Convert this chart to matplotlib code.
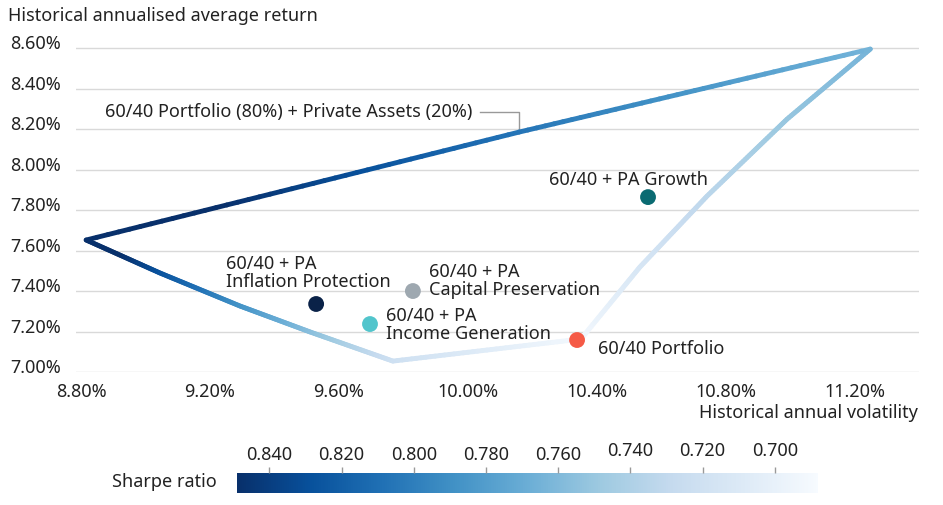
"""Return vs volatility of 60/40 + private asset blends, coloured by Sharpe ratio."""

import matplotlib

matplotlib.use("Agg")

import matplotlib.pyplot as plt
import numpy as np
from matplotlib.collections import LineCollection
from matplotlib.colors import Normalize
from matplotlib.transforms import ScaledTranslation

plt.rcParams["font.family"] = ["Noto Sans", "DejaVu Sans"]

# Blend path: volatility (%), return (%), sharpe ratio at each vertex
PATH_VOL = [10.35, 10.533, 10.741, 10.989, 11.247, 10.158, 8.816,
            9.045, 9.293, 9.510, 9.767, 10.35]
PATH_RET = [7.163, 7.519, 7.869, 8.249, 8.595, 8.185, 7.652,
            7.489, 7.326, 7.198, 7.054, 7.163]
PATH_SHARPE = [0.692, 0.714, 0.733, 0.751, 0.764, 0.806, 0.868,
               0.828, 0.788, 0.757, 0.722, 0.692]

# Named portfolios
POINT_NAMES = [
    "60/40 + PA Growth",
    "60/40 + PA\nInflation Protection",
    "60/40 + PA\nCapital Preservation",
    "60/40 + PA\nIncome Generation",
    "60/40 Portfolio",
]
POINT_VOL = [10.558, 9.529, 9.829, 9.696, 10.338]
POINT_RET = [7.864, 7.336, 7.400, 7.237, 7.158]
POINT_COLORS = ["#0b6b72", "#0a2248", "#9ea8b0", "#52c5cc", "#f55a46"]
# label anchor (left edge, vertical centre) in data units
LABEL_POS = [(10.251, 7.953), (9.250, 7.494), (9.879, 7.454),
             (9.746, 7.237), (10.403, 7.119)]

Y_TICKS = [7.0, 7.2, 7.4, 7.6, 7.8, 8.0, 8.2, 8.4, 8.6]
X_TICKS = [8.8, 9.2, 9.6, 10.0, 10.4, 10.8, 11.2]
CBAR_TICKS = [0.84, 0.82, 0.80, 0.78, 0.76, 0.74, 0.72, 0.70]
SHARPE_MIN, SHARPE_MAX = 0.688, 0.849

TEXT = "#222222"
FS = 13

norm = Normalize(vmin=SHARPE_MIN, vmax=SHARPE_MAX)
cmap = plt.get_cmap("Blues")

fig = plt.figure(figsize=(9.43, 5.06), dpi=100)
ax = fig.add_axes([0.0806, 0.2628, 0.8939, 0.6482])
ax.set_xlim(8.7845, 11.398)
ax.set_ylim(7.0, 8.62)
for s in ax.spines.values():
    s.set_visible(False)

ax.set_yticks(Y_TICKS, [f"{v:.2f}%" for v in Y_TICKS])
ax.set_xticks(X_TICKS, [f"{v:.2f}%" for v in X_TICKS])
ax.grid(axis="y", color="#d9d9d9", linewidth=1)
ax.set_axisbelow(True)
ax.tick_params(axis="both", length=0, labelsize=FS, labelcolor=TEXT)
ax.tick_params(axis="x", pad=7.5)
ax.tick_params(axis="y", pad=47.5)
for lbl in ax.get_yticklabels():
    lbl.set_horizontalalignment("left")
    lbl.set_verticalalignment("baseline")

# gradient line: split every leg into short pieces
segs, vals = [], []
for i in range(len(PATH_VOL) - 1):
    t = np.linspace(0, 1, 41)
    xs = PATH_VOL[i] + (PATH_VOL[i + 1] - PATH_VOL[i]) * t
    ys = PATH_RET[i] + (PATH_RET[i + 1] - PATH_RET[i]) * t
    cs = PATH_SHARPE[i] + (PATH_SHARPE[i + 1] - PATH_SHARPE[i]) * t
    pts = np.column_stack([xs, ys])
    for j in range(len(t) - 1):
        segs.append(pts[j:j + 2])
        vals.append((cs[j] + cs[j + 1]) / 2)
lc = LineCollection(segs, cmap=cmap, norm=norm, linewidths=3.5,
                    capstyle="round", joinstyle="round", zorder=2)
lc.set_array(np.array(vals))
ax.add_collection(lc)

ax.scatter(POINT_VOL, POINT_RET, s=130, c=POINT_COLORS, zorder=4, linewidths=0)
for name, (lx, ly) in zip(POINT_NAMES, LABEL_POS):
    ax.text(lx, ly, name, fontsize=FS, color=TEXT, ha="left", va="center",
            linespacing=1.05, zorder=5)

# callout for the blend line
ax.text(10.012, 8.289, "60/40 Portfolio (80%) + Private Assets (20%)",
        fontsize=FS, color=TEXT, ha="right", va="center")
ax.plot([10.037, 10.158, 10.158], [8.284, 8.284, 8.195],
        color="#999999", linewidth=1, zorder=1)

fig.text(8 / 943, 1 - 16 / 506, "Historical annualised average return",
         fontsize=FS, color=TEXT, va="center")
fig.text(918 / 943, 1 - 413 / 506, "Historical annual volatility",
         fontsize=FS, color=TEXT, ha="right", va="center")

# Sharpe ratio colour bar
cax = fig.add_axes([237 / 943, 1 - 494 / 506, 581 / 943, 20 / 506])
grad = np.linspace(SHARPE_MAX, SHARPE_MIN, 512)[None, :]
cax.imshow(grad, extent=[SHARPE_MAX, SHARPE_MIN, 0, 1], cmap=cmap,
           norm=norm, aspect="auto")
cax.set_xlim(SHARPE_MAX, SHARPE_MIN)
cax.set_yticks([])
cax.set_xticks(CBAR_TICKS, [f"{v:.3f}" for v in CBAR_TICKS])
cax.xaxis.set_ticks_position("top")
cax.tick_params(axis="x", length=4, width=1, color="#999999", pad=3,
                labelsize=FS, labelcolor=TEXT)
for s in cax.spines.values():
    s.set_visible(False)
for lbl in cax.get_xticklabels()[5:]:
    lbl.set_transform(lbl.get_transform()
                      + ScaledTranslation(0, 4 / 100, fig.dpi_scale_trans))

fig.text(112 / 943, 1 - 482 / 506, "Sharpe ratio", fontsize=FS, color=TEXT,
         va="center")

fig.savefig("out.png", dpi=100)
